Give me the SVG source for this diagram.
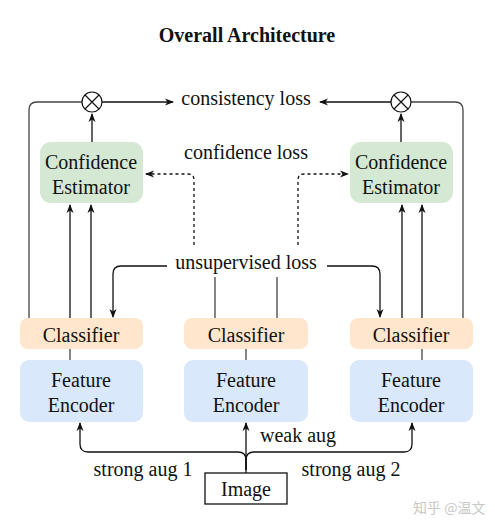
<svg xmlns="http://www.w3.org/2000/svg" width="495" height="530" viewBox="0 0 495 530" font-family="Liberation Serif, serif">
<defs>
<marker id="ah" markerWidth="10" markerHeight="10" refX="8" refY="5" orient="auto" markerUnits="userSpaceOnUse">
<path d="M0,1.5 L9,5 L0,8.5 L2.5,5 Z" fill="#111"/>
</marker>
</defs>
<style>
text{font-family:'Liberation Serif',serif;font-size:20px;fill:#111}
.c{text-anchor:middle}
.ce{fill:#d5e8d4}
.cl{fill:#ffe6cc}
.fe{fill:#dae8fc}
.ln{fill:none;stroke:#444;stroke-width:1.3}
.ar{fill:none;stroke:#111;stroke-width:1.3;marker-end:url(#ah)}
.da{fill:none;stroke:#111;stroke-width:1.3;stroke-dasharray:3,3;marker-end:url(#ah)}
.wm{font-family:'Noto Sans CJK SC',sans-serif;font-size:14px;fill:#c8c8c8}
</style>
<rect width="495" height="530" fill="#fff"/>
<text x="247" y="42" class="c" font-weight="bold">Overall Architecture</text>

<g id="connectors">
<path class="ln" d="M29,318 L29,110 Q29,102 37,102 L82,102"/>
<path class="ar" d="M102,102 L173,102"/>
<path class="ar" d="M92,142 L92,114"/>
<path class="ln" d="M463,318 L463,110 Q463,102 455,102 L411,102"/>
<path class="ar" d="M391,102 L320,102"/>
<path class="ar" d="M401,142 L401,114"/>
<path class="ar" d="M70,318 L70,205"/>
<path class="ar" d="M91,318 L91,205"/>
<path class="ar" d="M402,318 L402,205"/>
<path class="ar" d="M422,318 L422,205"/>
<path class="da" d="M194,245 L194,180 Q194,174 188,174 L146,174"/>
<path class="da" d="M298,245 L298,180 Q298,174 304,174 L348,174"/>
<path class="ln" d="M215,318 L215,277"/>
<path class="ln" d="M277,318 L277,277"/>
<path class="ar" d="M167,266 L121,266 Q113,266 113,274 L113,317"/>
<path class="ar" d="M327,266 L372,266 Q380,266 380,274 L380,317"/>
<path class="ln" d="M70,349 L70,360"/>
<path class="ln" d="M246,349 L246,360"/>
<path class="ln" d="M422,349 L422,360"/>
<path class="ar" d="M246,473 L246,423"/>
<path class="ar" d="M246,470 L246,460 Q246,452 238,452 L88,452 Q80,452 80,444 L80,423"/>
<path class="ar" d="M246,470 L246,460 Q246,452 254,452 L404,452 Q412,452 412,444 L412,423"/>
</g>

<g id="mult-left"><circle cx="92" cy="102" r="10" fill="#fff" stroke="#111" stroke-width="1.2"/><path d="M85,95 L99,109 M99,95 L85,109" stroke="#111" stroke-width="1.2"/></g>
<g id="mult-right"><circle cx="401" cy="102" r="10" fill="#fff" stroke="#111" stroke-width="1.2"/><path d="M394,95 L408,109 M408,95 L394,109" stroke="#111" stroke-width="1.2"/></g>

<g id="ce-left"><rect class="ce" x="40" y="142" width="103" height="61" rx="11"/><text class="c" x="91" y="169">Confidence</text><text class="c" x="91" y="194">Estimator</text></g>
<g id="ce-right"><rect class="ce" x="350" y="142" width="103" height="61" rx="11"/><text class="c" x="401" y="169">Confidence</text><text class="c" x="401" y="194">Estimator</text></g>

<g id="cls-left"><rect class="cl" x="20" y="318" width="123" height="31" rx="8"/><text class="c" x="81" y="342">Classifier</text></g>
<g id="cls-mid"><rect class="cl" x="184" y="318" width="124" height="31" rx="8"/><text class="c" x="246" y="342">Classifier</text></g>
<g id="cls-right"><rect class="cl" x="350" y="318" width="123" height="31" rx="8"/><text class="c" x="411" y="342">Classifier</text></g>

<g id="fe-left"><rect class="fe" x="20" y="360" width="123" height="62" rx="9"/><text class="c" x="81" y="387">Feature</text><text class="c" x="81" y="412">Encoder</text></g>
<g id="fe-mid"><rect class="fe" x="184" y="360" width="124" height="62" rx="9"/><text class="c" x="246" y="387">Feature</text><text class="c" x="246" y="412">Encoder</text></g>
<g id="fe-right"><rect class="fe" x="350" y="360" width="123" height="62" rx="9"/><text class="c" x="411" y="387">Feature</text><text class="c" x="411" y="412">Encoder</text></g>

<g id="image"><rect x="205" y="473" width="82" height="31" fill="#fff" stroke="#111" stroke-width="1.3"/><text class="c" x="246" y="496">Image</text></g>

<g id="labels">
<text class="c" x="246" y="105">consistency loss</text>
<text class="c" x="246" y="159">confidence loss</text>
<text class="c" x="246" y="269">unsupervised loss</text>
<text x="260" y="442">weak aug</text>
<text class="c" x="143" y="476">strong aug 1</text>
<text class="c" x="351" y="476">strong aug 2</text>
<text class="wm" x="413" y="513">知乎 @温文</text>
</g>
</svg>
